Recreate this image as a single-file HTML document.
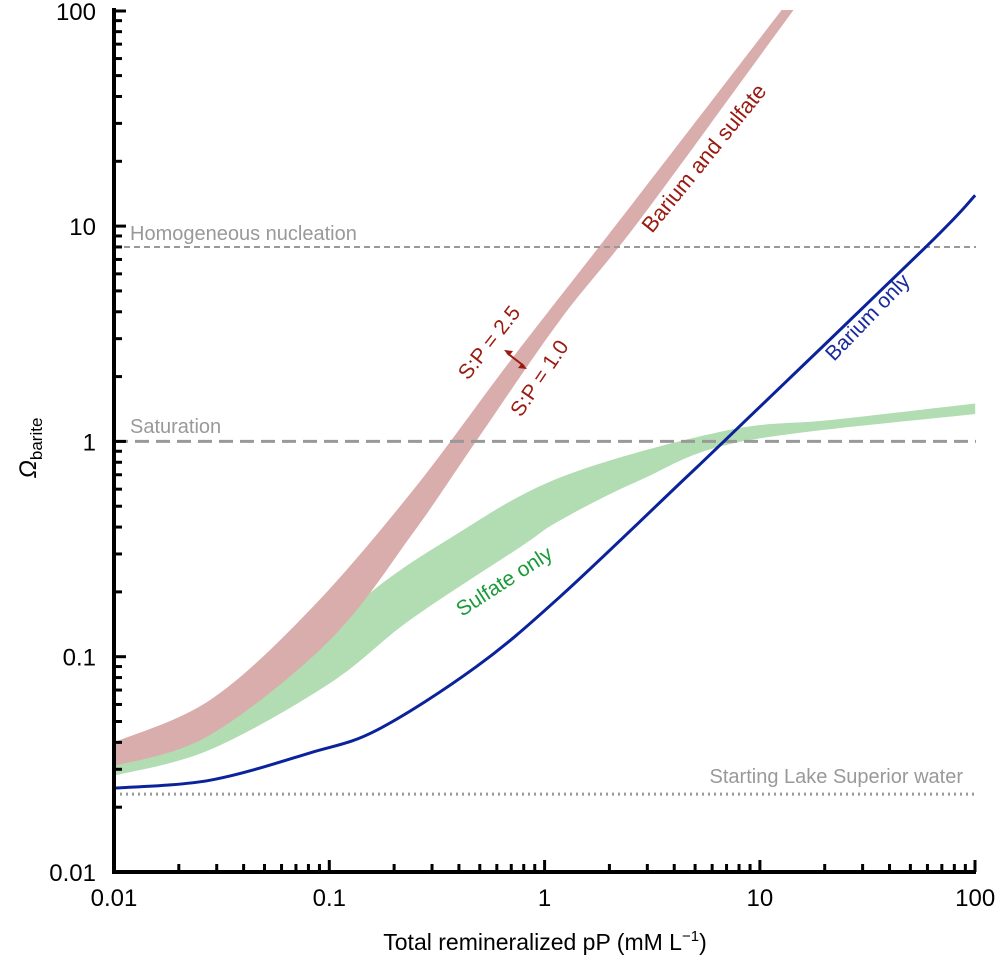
<!DOCTYPE html>
<html><head><meta charset="utf-8"><style>
body{margin:0;background:#fff}
svg{display:block;font-family:"Liberation Sans",Arial,sans-serif}
</style></head><body>
<svg id="chart" width="996" height="964">
<g id="marks"></g><g id="axes"></g>
<text x="545" y="950" text-anchor="middle" font-size="23">Total remineralized pP (mM L<tspan dy="-9" font-size="15">−1</tspan><tspan dy="9">)</tspan></text>
<text transform="translate(36,448) rotate(-90)" text-anchor="middle" font-size="24"><tspan font-style="italic">Ω</tspan><tspan dy="6" font-size="17">barite</tspan></text>
<text x="130" y="240" font-size="20" fill="#999">Homogeneous nucleation</text>
<text x="130" y="433" font-size="20" fill="#999">Saturation</text>
<text x="963" y="783" font-size="20" fill="#999" text-anchor="end">Starting Lake Superior water</text>
<text transform="translate(652,234) rotate(-51)" font-size="22" fill="#9a1a10">Barium and sulfate</text>
<text transform="translate(468,381) rotate(-52)" font-size="21" fill="#9a1a10">S:P = 2.5</text>
<text transform="translate(521,418) rotate(-56)" font-size="21" fill="#9a1a10">S:P = 1.0</text>
<g stroke="#9a1a10" stroke-width="2" fill="#9a1a10">
<line x1="507" y1="353" x2="524" y2="366"/><path d="M504,350 l9,1 l-4,5z M527,369 l-9,-1 l4,-5z" stroke="none"/></g>
<text transform="translate(462,617) rotate(-33)" font-size="21" fill="#1a9a3a">Sulfate only</text>
<text transform="translate(834,362) rotate(-46)" font-size="21" fill="#1a2aa0">Barium only</text>
</svg>
<script>
const xTickLabels=["0.01","0.1","1","10","100"];
const yTickLabels=["0.01","0.1","1","10","100"];
const redUpperX=[0.01,0.028,0.0813,0.245,0.698,2.24,12.4,15.3];
const redUpperY=[0.040,0.063,0.165,0.594,2.39,10.7,98.6,130];
const redLowerX=[0.01,0.0279,0.1007,0.245,0.48,1.18,2.77,14.1,17.5];
const redLowerY=[0.031,0.0433,0.1196,0.376,1.0,3.66,10.7,98.6,130];
const greenUpperX=[0.01,0.028,0.1,0.155,0.352,1.18,6.9,21.9,100];
const greenUpperY=[0.031,0.044,0.12,0.198,0.348,0.68,1.12,1.26,1.5];
const greenLowerX=[0.01,0.028,0.1,0.237,0.77,1.18,2.77,8.3,100];
const greenLowerY=[0.028,0.037,0.075,0.148,0.323,0.43,0.66,1.0,1.34];
const blueX=[0.01,0.028,0.081,0.167,0.48,1.18,4.4,6.8,59,100];
const blueY=[0.0245,0.0267,0.0357,0.0457,0.0896,0.19,0.66,1.0,8,13.9];
const satLevel=1, nucLevel=8, lakeLevel=0.023;
const X0=114,DX=215.3,Y0=872,DY=215.3;
const sx=v=>X0+(Math.log10(v)+2)*DX;
const sy=v=>Y0-(Math.log10(v)+2)*DY;
const NS="http://www.w3.org/2000/svg";
const marks=document.getElementById('marks'),axes=document.getElementById('axes');
function mk(tag,at,parent){const e=document.createElementNS(NS,tag);for(const k in at)e.setAttribute(k,at[k]);parent.appendChild(e);return e;}
function smooth(xs,ys,start){
 const p=xs.map((v,i)=>[sx(v),sy(ys[i])]);
 let d=(start?'M':'L')+p[0][0]+','+p[0][1];
 for(let i=0;i<p.length-1;i++){
  const a=p[Math.max(0,i-1)],b=p[i],c=p[i+1],e=p[Math.min(p.length-1,i+2)];
  const c1=[b[0]+(c[0]-a[0])/6,b[1]+(c[1]-a[1])/6],c2=[c[0]-(e[0]-b[0])/6,c[1]-(e[1]-b[1])/6];
  d+='C'+c1[0]+','+c1[1]+' '+c2[0]+','+c2[1]+' '+c[0]+','+c[1];
 }
 return d;
}
const cp=mk('clipPath',{id:'cp'},marks);mk('rect',{x:X0,y:10,width:862,height:862},cp);
const g=mk('g',{'clip-path':'url(#cp)'},marks);
function band(ux,uy,lx,ly,fill,name){
 const d=smooth(ux,uy,true)+smooth(lx.slice().reverse(),ly.slice().reverse(),false)+'Z';
 const p=mk('path',{d:d,fill:fill},g);
 
 
}
band(greenUpperX,greenUpperY,greenLowerX,greenLowerY,'#b2dcb2','sulfate-only-band');
band(redUpperX,redUpperY,redLowerX,redLowerY,'#d9adac','barium-sulfate-band');
function hline(v,dash,w,name){const l=mk('line',{x1:X0,x2:976,y1:sy(v),y2:sy(v),stroke:'#999','stroke-width':w,'stroke-dasharray':dash},g);
 
 }
hline(nucLevel,'6,4',2,'nucleation-line');
hline(satLevel,'14,7',3,'saturation-line');
hline(lakeLevel,'2,4',3,'lake-superior-line');
const bl=mk('path',{d:smooth(blueX,blueY,true),fill:'none',stroke:'#0a229a','stroke-width':3},g);


mk('line',{x1:X0,y1:8,x2:X0,y2:Y0+2,stroke:'#000','stroke-width':4},axes);
mk('line',{x1:X0-2,y1:Y0,x2:976,y2:Y0,stroke:'#000','stroke-width':4},axes);
for(let d=0;d<4;d++)for(let k=1;k<10;k++){
 const v=Math.pow(10,d-2)*k;const len=k==1?12:8;
 mk('line',{x1:sx(v),x2:sx(v),y1:Y0,y2:Y0-len,stroke:'#000','stroke-width':3},axes);
 mk('line',{x1:X0,x2:X0+len,y1:sy(v),y2:sy(v),stroke:'#000','stroke-width':3},axes);
}
mk('line',{x1:975,x2:975,y1:Y0,y2:Y0-12,stroke:'#000','stroke-width':3},axes);
mk('line',{x1:X0,x2:X0+12,y1:11,y2:11,stroke:'#000','stroke-width':3},axes);
xTickLabels.forEach(t=>{const e=mk('text',{x:sx(+t),y:906,'text-anchor':'middle','font-size':24},axes);e.textContent=t;
 
 });
yTickLabels.forEach(t=>{const e=mk('text',{x:96,y:sy(+t)+9,'text-anchor':'end','font-size':24},axes);e.textContent=t;
 
 });
</script>
</body></html>
